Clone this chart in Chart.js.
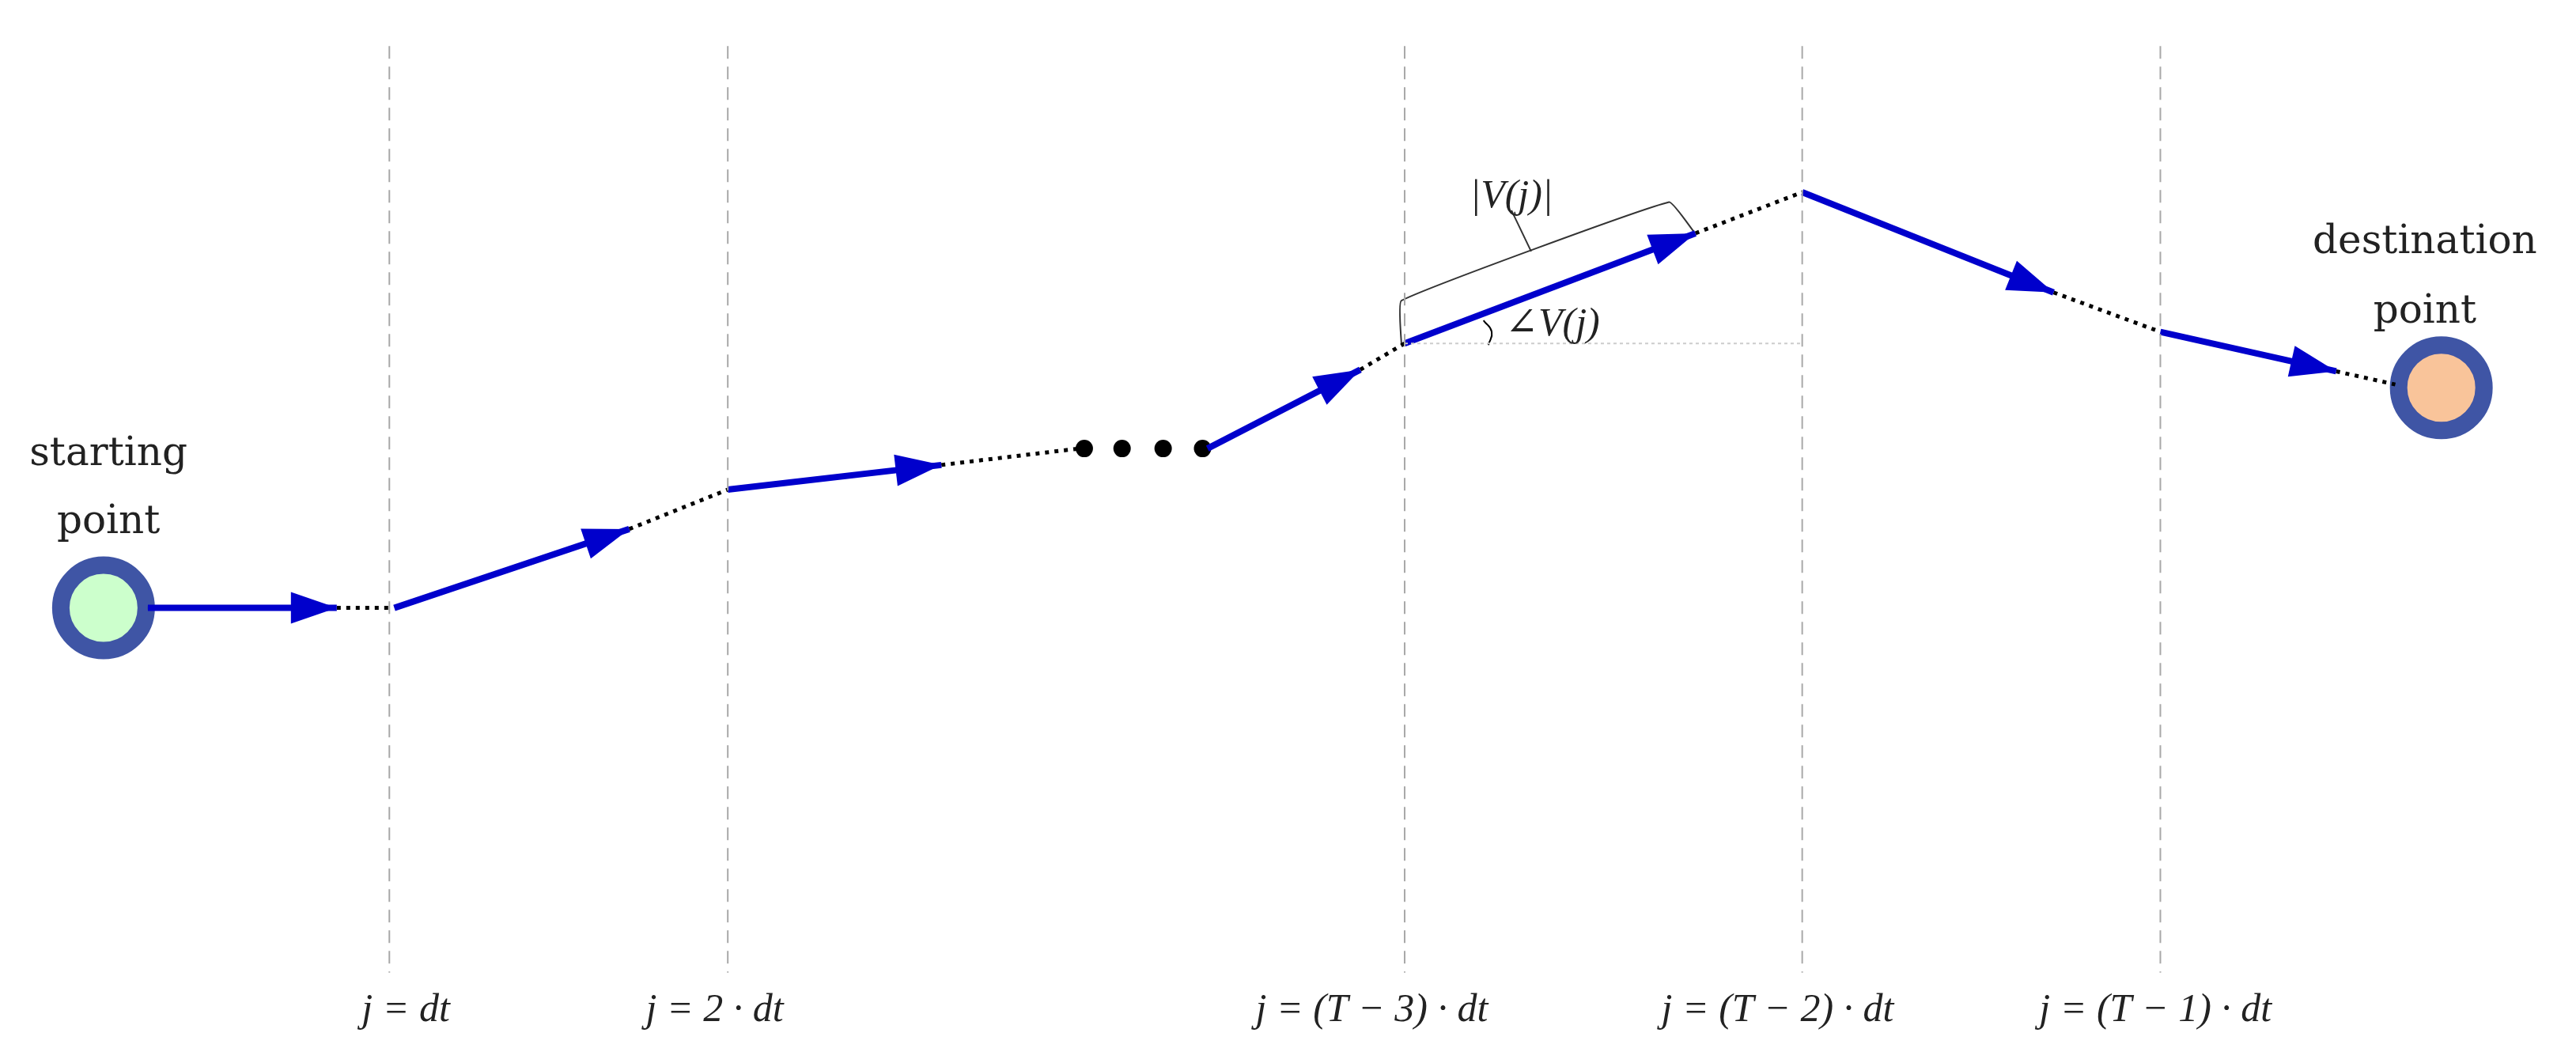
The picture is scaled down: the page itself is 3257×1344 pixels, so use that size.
<!DOCTYPE html>
<html>
<head>
<meta charset="utf-8">
<script src="https://cdn.jsdelivr.net/npm/chart.js@4/dist/chart.umd.min.js"></script>
<style>
  html, body { margin: 0; padding: 0; background: white; }
  #wrap { width: 3257px; height: 1344px; }
</style>
</head>
<body>
<div id="wrap"><canvas id="pathChart"></canvas></div>
<script>
// Positions in reference units (x 0..1568, y 0..647, y down)
const stepX = [237, 443, 855, 1097, 1315];
const stepLabels = ["j = dt", "j = 2 · dt", "j = (T − 3) · dt", "j = (T − 2) · dt", "j = (T − 1) · dt"];
const stepLabelX = [247, 435, 835, 1082, 1312];

// blue arrows: start -> tip
const arrowStartX = [90, 240, 443, 735, 855, 1097, 1315];
const arrowStartY = [370, 370, 298, 273, 209, 117, 202];
const arrowTipX = [205, 383, 573, 828, 1032, 1250, 1422];
const arrowTipY = [370, 322, 283, 225, 142, 178, 226];
// dotted continuation: tip -> next knot
const dotEndX = [237, 443, 657, 855, 1097, 1315, 1458];
const dotEndY = [370, 298, 273, 209, 117, 202, 234];

const ellipsisX = [660, 683, 708, 732];
const ellipsisY = [273, 273, 273, 273];

const startPoint = { x: 63, y: 370 };
const endPoint = { x: 1486, y: 236 };

const bracketX = [853, 853, 1016, 1031];
const bracketY = [209, 183, 123, 141];
const bracketTickX = [932, 920];
const bracketTickY = [153, 128];
const arcX = [903, 908, 906];
const arcY = [195, 202, 210];

const datasets = [];
stepX.forEach((x) => {
  datasets.push({
    data: [{ x: x, y: 28 }, { x: x, y: 592 }],
    borderColor: "#a8a8a8", borderWidth: 2, borderDash: [16, 10], pointRadius: 0,
  });
});
datasets.push({
  data: [{ x: 855, y: 209 }, { x: 1097, y: 209 }],
  borderColor: "#cccccc", borderWidth: 2, borderDash: [4, 4], pointRadius: 0,
});
arrowStartX.forEach((x, i) => {
  datasets.push({
    data: [{ x: x, y: arrowStartY[i] }, { x: arrowTipX[i], y: arrowTipY[i] }],
    borderColor: "#0000cc", borderWidth: 8, pointRadius: 0, arrow: true,
  });
});
datasets.push({
  data: [{ x: 90, y: 370 }, { x: 205, y: 370 }],
  borderColor: "#000000", borderWidth: 4, borderDash: [5, 5], pointRadius: 0,
});
arrowTipX.forEach((x, i) => {
  datasets.push({
    data: [{ x: x, y: arrowTipY[i] }, { x: dotEndX[i], y: dotEndY[i] }],
    borderColor: "#000000", borderWidth: 5, borderDash: [5, 7], pointRadius: 0,
  });
});
datasets.push({
  data: bracketX.map((x, i) => ({ x: x, y: bracketY[i] })),
  borderColor: "#333333", borderWidth: 2, pointRadius: 0, tension: 0.1,
});
datasets.push({
  data: bracketTickX.map((x, i) => ({ x: x, y: bracketTickY[i] })),
  borderColor: "#333333", borderWidth: 2, pointRadius: 0,
});
datasets.push({
  data: arcX.map((x, i) => ({ x: x, y: arcY[i] })),
  borderColor: "#000000", borderWidth: 2, pointRadius: 0, tension: 0.5,
});
datasets.push({
  data: ellipsisX.map((x, i) => ({ x: x, y: ellipsisY[i] })),
  showLine: false, pointRadius: 11, pointBackgroundColor: "#000", pointBorderWidth: 0,
});
datasets.push({
  data: [startPoint], showLine: false, pointRadius: 54, pointBorderWidth: 22,
  pointBorderColor: "#3f55a5", pointBackgroundColor: "#ccffcc",
});
datasets.push({
  data: [endPoint], showLine: false, pointRadius: 54, pointBorderWidth: 22,
  pointBorderColor: "#3f55a5", pointBackgroundColor: "#f9c49a",
});

const overlay = {
  id: "overlay",
  afterDatasetsDraw(chart) {
    const ctx = chart.ctx;
    const sx = chart.scales.x, sy = chart.scales.y;
    ctx.save();
    chart.data.datasets.forEach((ds) => {
      if (!ds.arrow) return;
      const a = ds.data[0], b = ds.data[1];
      const x1 = sx.getPixelForValue(a.x), y1 = sy.getPixelForValue(a.y);
      const x2 = sx.getPixelForValue(b.x), y2 = sy.getPixelForValue(b.y);
      const ang = Math.atan2(y2 - y1, x2 - x1);
      const len = 58, half = 20;
      ctx.fillStyle = "#0000cc";
      ctx.beginPath();
      ctx.moveTo(x2, y2);
      ctx.lineTo(x2 - len * Math.cos(ang) + half * Math.sin(ang), y2 - len * Math.sin(ang) - half * Math.cos(ang));
      ctx.lineTo(x2 - len * Math.cos(ang) - half * Math.sin(ang), y2 - len * Math.sin(ang) + half * Math.cos(ang));
      ctx.closePath();
      ctx.fill();
    });
    const text = (t, x, y, font) => {
      ctx.font = font;
      ctx.fillStyle = "#222";
      ctx.textAlign = "center";
      ctx.textBaseline = "middle";
      ctx.fillText(t, sx.getPixelForValue(x), sy.getPixelForValue(y));
    };
    const serif = "50px 'DejaVu Serif', 'Liberation Serif', serif";
    const math = "italic 50px 'Liberation Serif', 'DejaVu Serif', serif";
    stepLabels.forEach((t, i) => text(t, stepLabelX[i], 615, math));
    text("starting", 66, 277, serif);
    text("point", 66, 318, serif);
    text("destination", 1476, 148, serif);
    text("point", 1476, 190, serif);
    text("|V(j)|", 920, 120, math);
    text("∠V(j)", 945, 198, math);
    ctx.restore();
  },
};

new Chart(document.getElementById("pathChart"), {
  type: "line",
  data: { datasets },
  plugins: [overlay],
  options: {
    responsive: true,
    maintainAspectRatio: false,
    animation: false,
    layout: { padding: 0, autoPadding: false },
    scales: {
      x: { type: "linear", min: 0, max: 1568, display: false },
      y: { type: "linear", min: 0, max: 647, reverse: true, display: false },
    },
    plugins: { legend: { display: false }, tooltip: { enabled: false } },
  },
});
</script>
</body>
</html>
